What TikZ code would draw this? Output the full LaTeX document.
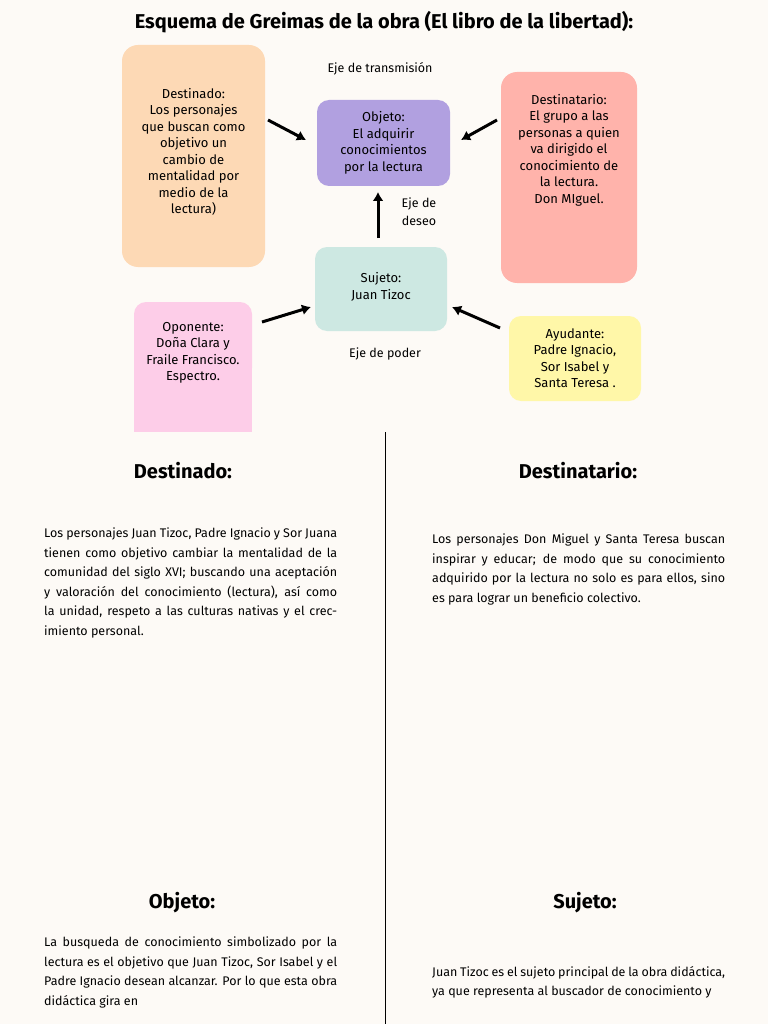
\documentclass[tikz,border=0pt]{standalone}
\usepackage{fontspec}
\setmainfont{Fira Sans}
\usetikzlibrary{arrows.meta}
\definecolor{bg}{RGB}{253,250,246}
\definecolor{cpeach}{RGB}{253,217,181}
\definecolor{cpurple}{RGB}{177,160,224}
\definecolor{csalmon}{RGB}{255,179,171}
\definecolor{cmint}{RGB}{205,232,226}
\definecolor{cpink}{RGB}{253,205,232}
\definecolor{cyellow}{RGB}{255,247,168}
\begin{document}
\begin{tikzpicture}[x=1pt,y=-1pt,
  box/.style={align=center, font=\fontsize{13}{16.5}\selectfont, inner sep=3pt},
  arr/.style={line width=3pt,-{Latex[length=9pt,width=11pt]}},
  para/.style={anchor=north west, text width=293pt, align=justify, font=\fontsize{12.5}{19.5}\selectfont, inner sep=0pt},
  head/.style={font=\fontsize{20}{24}\selectfont\bfseries},
  lab/.style={font=\fontsize{12.5}{18}\selectfont, align=center}]
\useasboundingbox (0,0) rectangle (768,1024);
\clip (0,0) rectangle (768,1024);
\fill[bg] (0,0) rectangle (768,1024);
\node[font=\fontsize{20}{24}\selectfont\bfseries] (title) at (384,22) {Esquema de Greimas de la obra (El libro de la libertad):};
\fill[cpeach, rounded corners=16pt] (122,45) rectangle (265,267);
\node[box] (dest) at (193.5,152) {Destinado:\\Los personajes\\que buscan como\\objetivo un\\cambio de\\mentalidad por\\medio de la\\lectura)};
\fill[cpurple, rounded corners=12pt] (317,100) rectangle (450,186);
\node[box] (obj) at (383.5,143) {Objeto:\\El adquirir\\conocimientos\\por la lectura};
\fill[csalmon, rounded corners=16pt] (501,72) rectangle (637,283);
\node[box] (desti) at (569,150) {Destinatario:\\El grupo a las\\personas a quien\\va dirigido el\\conocimiento de\\la lectura.\\Don MIguel.};
\fill[cmint, rounded corners=12pt] (315,247) rectangle (447,331);
\node[box] (suj) at (381,287) {Sujeto:\\Juan Tizoc};
\fill[cpink, rounded corners=12pt] (134,302) rectangle (252,380);
\fill[cpink] (134,360) rectangle (252,432);
\node[box] (opo) at (193,353) {Oponente:\\Doña Clara y\\Fraile Francisco.\\Espectro.};
\fill[cyellow, rounded corners=12pt] (509,316) rectangle (641,401);
\node[box] (ayu) at (575,358) {Ayudante:\\Padre Ignacio,\\Sor Isabel y\\Santa Teresa .};
\node[lab] (l1) at (380,69) {Eje de transmisión};
\node[lab] (l2) at (419,212) {Eje de\\deseo};
\node[lab] (l3) at (385,354) {Eje de poder};
\coordinate (a1) at (268,120); \coordinate (b1) at (306,140);
\coordinate (a2) at (497,120); \coordinate (b2) at (461,140);
\coordinate (a3) at (378,238); \coordinate (b3) at (378,192);
\coordinate (a4) at (262,322); \coordinate (b4) at (311,307);
\coordinate (a5) at (500,328); \coordinate (b5) at (452,307);
\draw[arr] (a1)--(b1); \draw[arr] (a2)--(b2); \draw[arr] (a3)--(b3);
\draw[arr] (a4)--(b4); \draw[arr] (a5)--(b5);
\coordinate (v1) at (385,432); \coordinate (v2) at (385,1024);
\draw[line width=1pt] (v1)--(v2);
\node[head] (h1) at (183,471) {Destinado:};
\node[head] (h2) at (578,471) {Destinatario:};
\node[head] (h3) at (182,903) {Objeto:};
\node[head] (h4) at (585,903) {Sujeto:};
\node[para] (p1) at (44,528) {Los personajes Juan Tizoc, Padre Ignacio y Sor Juana tienen como objetivo cambiar la mentalidad de la comunidad del siglo XVI; buscando una aceptación y valoración del conocimiento (lectura), así como la unidad, respeto a las culturas nativas y el crecimiento personal.};
\node[para] (p2) at (432,534) {Los personajes Don Miguel y Santa Teresa buscan inspirar y educar; de modo que su conocimiento adquirido por la lectura no solo es para ellos, sino es para lograr un beneficio colectivo.};
\node[para] (p3) at (44,937) {La busqueda de conocimiento simbolizado por la lectura es el objetivo que Juan Tizoc, Sor Isabel y el Padre Ignacio desean alcanzar. Por lo que esta obra didáctica gira en};
\node[para] (p4) at (432,966) {Juan Tizoc es el sujeto principal de la obra didáctica, ya que representa al buscador de conocimiento y};
\end{tikzpicture}
\end{document}
